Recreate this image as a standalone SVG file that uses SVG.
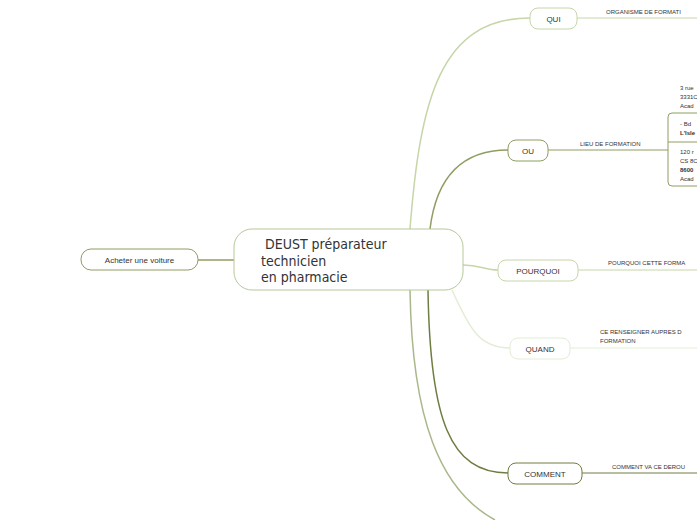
<svg xmlns="http://www.w3.org/2000/svg" width="697" height="520" viewBox="0 0 697 520">
<style>
.n{fill:#fff;stroke-width:1}
.t{font-family:"Liberation Sans",sans-serif;font-size:8px;fill:#333}
.s{font-family:"Liberation Sans",sans-serif;font-size:6px;fill:#333}
.b{font-weight:bold}
path{fill:none}
</style>
<rect width="697" height="520" fill="#fff"/>
<g id="connectors">
<path d="M410 229 C420 100 440 18 530 18" stroke="#c5d6a8" stroke-width="1.5"/>
<path d="M430 229 C436 180 460 150 508 150" stroke="#8f9e63" stroke-width="1.5"/>
<path d="M463 265 C480 265 485 270 498 270" stroke="#c5d6a8" stroke-width="1.5"/>
<path d="M452 290 C470 330 480 348 510 348" stroke="#e3edd5" stroke-width="1.5"/>
<path d="M428 290 C430 420 450 473 508 473" stroke="#6e7d42" stroke-width="1.5"/>
<path d="M410 290 C412 420 440 490 495 520" stroke="#a9b88a" stroke-width="1.5"/>
<path d="M234 260 L198 260" stroke="#8f9e63" stroke-width="1.5"/>
<path d="M577 18 L697 18" stroke="#c5d6a8"/>
<path d="M548 150 L668 150" stroke="#8f9e63"/>
<path d="M578 270 L697 270" stroke="#c5d6a8"/>
<path d="M570 348 L697 348" stroke="#e3edd5"/>
<path d="M582 473 L697 473" stroke="#6e7d42"/>
</g>
<g id="center"><rect x="234" y="229" width="229" height="61" rx="18" class="n" stroke="#b5c99a" stroke-width="2.5"/>
<text font-family="'DejaVu Sans Condensed','Liberation Sans',sans-serif" font-size="14" fill="#333"><tspan x="265" y="249"> DEUST préparateur</tspan><tspan x="261" y="266">technicien</tspan><tspan x="261" y="282">en pharmacie</tspan></text></g>
<g id="acheter"><rect x="81" y="249" width="117" height="21" rx="10" class="n" stroke="#8f9e63"/><text class="t" x="139.5" y="263" text-anchor="middle">Acheter une voiture</text></g>
<g id="qui"><rect x="530" y="8" width="47" height="21" rx="8" class="n" stroke="#c5d6a8"/><text class="t" x="553.5" y="22" text-anchor="middle">QUI</text><text class="s" x="606" y="14">ORGANISME DE FORMATI</text></g>
<g id="ou"><rect x="508" y="140" width="40" height="21" rx="8" class="n" stroke="#8f9e63"/><text class="t" x="528" y="154" text-anchor="middle">OU</text><text class="s" x="580" y="146">LIEU DE FORMATION</text>
<rect x="668" y="113" width="40" height="73" rx="4" class="n" stroke="#8f9e63"/>
<line x1="668" y1="142" x2="697" y2="142" stroke="#8f9e63"/>
<text class="s" x="680" y="90">3 rue</text><text class="s" x="680" y="99">3331C</text><text class="s" x="680" y="108">Acad</text>
<text class="s" x="680" y="126">- Bd</text><text class="s b" x="680" y="135">L'Isle</text>
<text class="s" x="680" y="154">120 r</text><text class="s" x="680" y="163">CS 8C</text><text class="s b" x="680" y="172">8600</text><text class="s" x="680" y="181">Acad</text></g>
<g id="pourquoi"><rect x="498" y="260" width="80" height="21" rx="8" class="n" stroke="#c5d6a8"/><text class="t" x="538" y="274" text-anchor="middle">POURQUOI</text><text class="s" x="608" y="265">POURQUOI CETTE FORMA</text></g>
<g id="quand"><rect x="510" y="338" width="60" height="21" rx="8" class="n" stroke="#e3edd5"/><text class="t" x="540" y="352" text-anchor="middle">QUAND</text><text class="s" x="600" y="334">CE RENSEIGNER AUPRES D</text><text class="s" x="600" y="343">FORMATION</text></g>
<g id="comment"><rect x="508" y="463" width="74" height="21" rx="8" class="n" stroke="#6e7d42"/><text class="t" x="545" y="477" text-anchor="middle">COMMENT</text><text class="s" x="612" y="469">COMMENT VA CE DEROU</text></g>
</svg>
